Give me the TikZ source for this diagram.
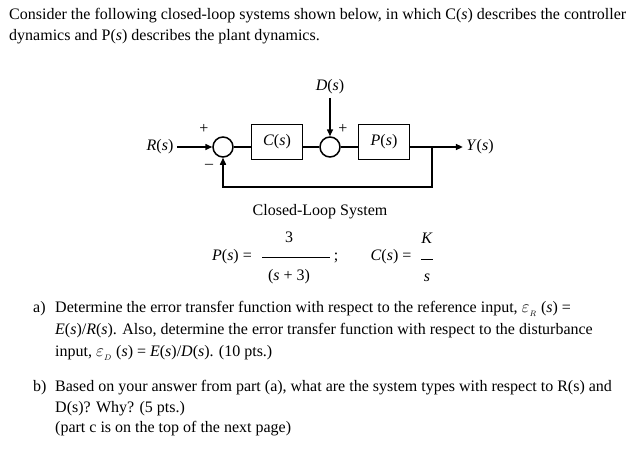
\documentclass[tikz,border=0pt]{standalone}
\usepackage{fontspec}
\setmainfont{Liberation Serif}
\usetikzlibrary{arrows.meta}
\begin{document}
\begin{tikzpicture}[x=1pt,y=-1pt,font=\fontsize{16}{19}\selectfont,
  blk/.style={draw,line width=1.5pt,minimum width=51pt,minimum height=35pt,inner sep=0pt},
  sumc/.style={draw,line width=1.5pt,circle,minimum size=20pt,inner sep=0pt},
  ln/.style={line width=1.5pt},
  arr/.style={line width=1.5pt,-{Triangle[length=7pt,width=6pt]}},
  txt/.style={anchor=base west,inner sep=0pt}]
\useasboundingbox (0,0) rectangle (641,448);
\node[sumc] (s1) at (223,147) {};
\node[blk] (c) at (277,142) {\textit{C}(\textit{s})};
\node[sumc] (s2) at (330,147) {};
\node[blk] (p) at (384,142) {\textit{P}(\textit{s})};
\node (r) at (160,147) {\textit{R}(\textit{s})};
\node (y) at (480,147) {\textit{Y}(\textit{s})};
\node (d) at (330,87) {\textit{D}(\textit{s})};
\coordinate (br) at (432,147);
\coordinate (fb1) at (432,187);
\coordinate (fb2) at (223,187);
\draw[arr] (r) -- (s1);
\draw[ln] (s1) -- (s1-|c.west);
\draw[ln] (c.east|-s2) -- (s2);
\draw[ln] (s2) -- (s2-|p.west);
\draw[arr] (p.east|-br) -- (y);
\draw[arr] (br) -- (fb1) -- (fb2) -- (s1);
\draw[arr] (d) -- (s2);
\node (pl1) at (204,129) {+};
\node (mi1) at (209,166) {--};
\node (pl2) at (343,129) {+};
\node (cls) at (320,212) {Closed-Loop System};
\node (n3) at (289,237) {3};
\draw[ln,line width=1pt] (262,257) -- (330,257);
\node (dn) at (289,277) {(\textit{s} + 3)};
\node (peq) at (232,257) {\textit{P}(\textit{s}) =};
\node (semi) at (336,258) {;};
\node (ceq) at (391,257) {\textit{C}(\textit{s}) =};
\node (k) at (427,238) {\textit{K}};
\draw[ln,line width=1pt] (421,259) -- (433,259);
\node (sd) at (427,278) {\textit{s}};
\node[txt] at (9,19) {Consider the following closed-loop systems shown below, in which C(\textit{s}) describes the controller};
\node[txt] at (9,40) {dynamics and P(\textit{s}) describes the plant dynamics.};
\node[txt] at (33,312) {a)};
\node[txt] at (55,312) {Determine the error transfer function with respect to the reference input, $\varepsilon_{_R}$ (\textit{s}) =};
\node[txt] at (55,334) {\textit{E}(\textit{s})/\textit{R}(\textit{s}). Also, determine the error transfer function with respect to the disturbance};
\node[txt] at (55,356) {input, $\varepsilon_{_D}$ (\textit{s}) = \textit{E}(\textit{s})/\textit{D}(\textit{s}). (10 pts.)};
\node[txt] at (33,391) {b)};
\node[txt] at (55,391) {Based on your answer from part (a), what are the system types with respect to R(s) and};
\node[txt] at (55,412) {D(s)? Why? (5 pts.)};
\node[txt] at (55,432) {(part c is on the top of the next page)};
\end{tikzpicture}
\end{document}
